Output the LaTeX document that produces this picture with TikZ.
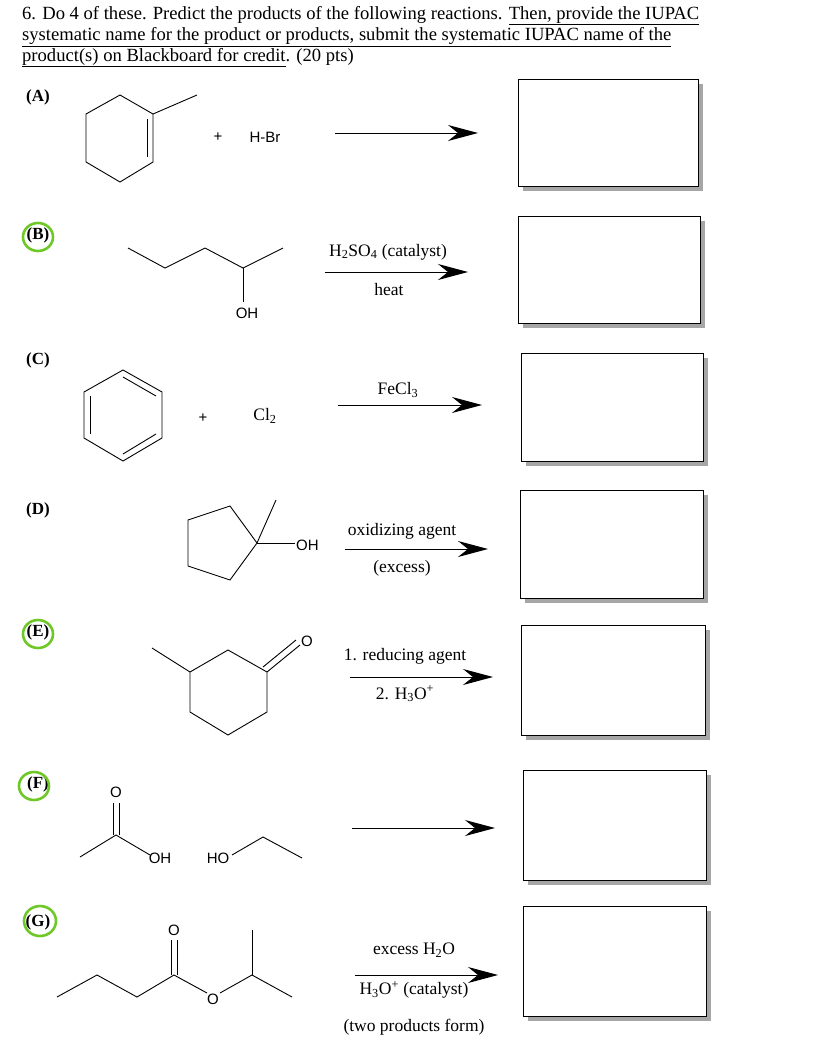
\documentclass[tikz,border=0pt]{standalone}
\usepackage{fontspec}
\setmainfont{Liberation Serif}
\newfontfamily\chemsans{Liberation Sans}
\usetikzlibrary{arrows.meta}
\definecolor{hl}{RGB}{110,200,40}
\tikzset{
  bond/.style={line width=0.9pt},
  rxn/.style={line width=1pt,-{Stealth[length=30pt,width=16pt,inset=10pt]}},
  ansbox/.style={draw,line width=0.9pt,fill=white},
  shadow/.style={fill=black!35,draw=none},
  lbl/.style={font=\fontsize{17}{19}\selectfont\bfseries},
  atom/.style={font=\chemsans\fontsize{15}{17}\selectfont,inner sep=1pt},
  reag/.style={font=\fontsize{17.5}{19}\selectfont,inner sep=1pt},
  ring/.style={draw=hl,line width=2.6pt},
}
\newcommand{\ansbox}[5]{\fill[shadow] (#2+5,#3+5) rectangle (#4+5,#5+5);
  \node[ansbox,anchor=north west,minimum width=#4-#2,minimum height=#5-#3,inner sep=0pt] (#1) at (#2,#3) {};}
\begin{document}
\begin{tikzpicture}[x=1pt,y=-1pt]
\useasboundingbox (0,0) rectangle (818,1053);
% header
\node[anchor=north west,align=left,inner sep=0pt,font=\fontsize{18.6}{21}\selectfont] (hdr) at (22,6)
{6. Do 4 of these. Predict the products of the following reactions. \underline{Then, provide the IUPAC}\\
\underline{systematic name for the product or products, submit the systematic IUPAC name of the}\\
\underline{product(s) on Blackboard for credit}. (20 pts)};
% ---- A
\node[lbl] (la) at (38,97) {(A)};
\draw[bond] (120,95)--(153,114)--(153,162)--(120,182)--(86,162)--(86,114)--cycle;
\draw[bond] (147,119)--(147,157);
\draw[bond] (153,114)--(197,95);
\node[atom] (pa) at (218,137) {+};
\node[atom] (hbr) at (265,137) {H-Br};
\coordinate (a1) at (335,133); \coordinate (a2) at (478,133);
\draw[rxn] (a1)--(a2);
\ansbox{ba}{518}{79}{698}{186}
% ---- B
\node[lbl] (lb) at (38,235) {(B)};
\draw[ring] (38,237) ellipse (15 and 14);
\draw[bond] (128,248)--(165,268)--(205,248)--(243,268)--(283,248);
\draw[bond] (243,268)--(243,302);
\node[atom] (ohb) at (247,313) {OH};
\node[reag] (rb1) at (388,252) {H\textsubscript{2}SO\textsubscript{4} (catalyst)};
\coordinate (b1) at (325,272); \coordinate (b2) at (468,272);
\draw[rxn] (b1)--(b2);
\node[reag] (rb2) at (389,290) {heat};
\ansbox{bb}{518}{216}{700}{323}
% ---- C
\node[lbl] (lc) at (38,360) {(C)};
\draw[bond] (123,370)--(162,392)--(162,438)--(123,461)--(84,438)--(84,392)--cycle;
\draw[bond] (123,377)--(156,396);
\draw[bond] (156,434)--(123,454);
\draw[bond] (90,396)--(90,434);
\node[atom] (pc) at (203,418) {+};
\node[reag] (cl2) at (265,416) {Cl\textsubscript{2}};
\node[reag] (rc) at (398,390) {FeCl\textsubscript{3}};
\coordinate (c1) at (338,405); \coordinate (c2) at (482,405);
\draw[rxn] (c1)--(c2);
\ansbox{bc}{521}{353}{703}{461}
% ---- D
\node[lbl] (ld) at (38,510) {(D)};
\draw[bond] (257,543)--(230,506)--(188,520)--(188,566)--(230,580)--cycle;
\draw[bond] (257,543)--(276,500);
\draw[bond] (257,543)--(295,543);
\node[atom,anchor=west] (ohd) at (295,545) {OH};
\node[reag] (rd1) at (402,531) {oxidizing agent};
\coordinate (d1) at (345,549); \coordinate (d2) at (488,549);
\draw[rxn] (d1)--(d2);
\node[reag] (rd2) at (402,568) {(excess)};
\ansbox{bd}{520}{490}{703}{598}
% ---- E
\node[lbl] (le) at (38,632) {(E)};
\draw[ring] (38,634) ellipse (15 and 14);
\draw[bond] (228,650)--(267,672)--(267,712)--(228,735)--(190,712)--(190,672)--cycle;
\draw[bond] (190,672)--(152,648);
\draw[bond] (267,672)--(300,645);
\draw[bond] (263,667)--(296,640);
\node[atom] (oe) at (307,641) {O};
\node[reag] (re1) at (405,656) {1. reducing agent};
\coordinate (e1) at (350,677); \coordinate (e2) at (493,677);
\draw[rxn] (e1)--(e2);
\node[reag] (re2) at (405,694) {2. H\textsubscript{3}O\textsuperscript{+}};
\ansbox{be}{521}{625}{705}{735}
% ---- F
\node[lbl] (lf) at (38,784) {(F)};
\draw[ring] (34,786) ellipse (15 and 14);
\draw[bond] (80,857)--(116,835)--(150,855);
\draw[bond] (113,835)--(113,803);
\draw[bond] (119,835)--(119,803);
\node[atom] (of) at (116,792) {O};
\node[atom] (ohf) at (160,858) {OH};
\node[atom] (hof) at (218,858) {HO};
\draw[bond] (232,855)--(263,837)--(302,858);
\coordinate (f1) at (352,828); \coordinate (f2) at (495,828);
\draw[rxn] (f1)--(f2);
\ansbox{bf}{523}{770}{706}{880}
% ---- G
\node[lbl] (lg) at (38,922) {(G)};
\draw[ring] (40,921) ellipse (16 and 15);
\draw[bond] (57,997)--(97,975)--(137,997)--(174,975)--(207,993);
\draw[bond] (171,975)--(171,940);
\draw[bond] (177,975)--(177,940);
\node[atom] (og1) at (174,930) {O};
\node[atom] (og2) at (213,999) {O};
\draw[bond] (220,993)--(252,975)--(292,997);
\draw[bond] (252,975)--(252,930);
\node[reag] (rg1) at (414,950) {excess H\textsubscript{2}O};
\coordinate (g1) at (355,975); \coordinate (g2) at (498,975);
\draw[rxn] (g1)--(g2);
\node[reag] (rg2) at (414,990) {H\textsubscript{3}O\textsuperscript{+} (catalyst)};
\node[reag] (rg3) at (414,1027) {(two products form)};
\ansbox{bg}{523}{906}{706}{1016}
\end{tikzpicture}
\end{document}
